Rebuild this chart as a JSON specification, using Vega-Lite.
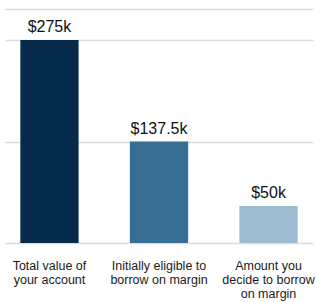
{
  "$schema": "https://vega.github.io/schema/vega-lite/v6.json",
  "width": 308,
  "height": 234,
  "padding": {"left": 5, "top": 9, "right": 4, "bottom": 59},
  "autosize": "none",
  "background": "white",
  "config": {"view": {"stroke": null}, "font": "Liberation Sans"},
  "data": {"values": [
    {"cat": "Total value of|your account", "value": 275, "label": "$275k", "order": 1},
    {"cat": "Initially eligible to|borrow on margin", "value": 137.5, "label": "$137.5k", "order": 2},
    {"cat": "Amount you|decide to borrow|on margin", "value": 50, "label": "$50k", "order": 3}
  ]},
  "encoding": {
    "x": {"field": "cat", "type": "nominal", "sort": {"field": "order"},
      "scale": {"paddingInner": 0.468, "paddingOuter": 0.14},
      "axis": {"title": null, "labelAngle": 0, "ticks": false, "domain": false,
        "labelExpr": "split(datum.label, '|')", "labelFontSize": 12.5, "labelLineHeight": 14,
        "labelColor": "#1a1a1a", "labelPadding": 16, "labelFont": "Liberation Sans"}},
    "y": {"field": "value", "type": "quantitative",
      "scale": {"domain": [0, 317], "nice": false},
      "axis": {"title": null, "labels": false, "ticks": false, "domain": false,
        "values": [0, 137.5, 275, 317], "gridColor": "#dcdcdc", "gridWidth": 1.5}}
  },
  "layer": [
    {"mark": {"type": "bar"},
      "encoding": {"color": {"field": "cat", "type": "nominal", "sort": {"field": "order"}, "legend": null,
        "scale": {"range": ["#062b4b", "#386e93", "#9cbad0"]}}}},
    {"mark": {"type": "text", "baseline": "alphabetic", "dy": -8, "fontSize": 16, "color": "#111", "font": "Liberation Sans"},
      "encoding": {"text": {"field": "label"}}}
  ]
}
